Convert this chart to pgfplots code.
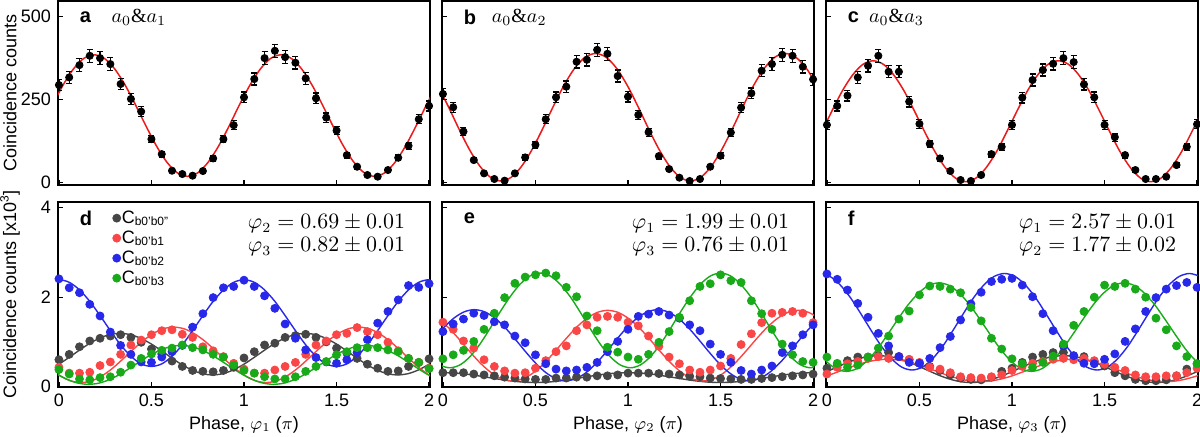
\documentclass[border=0pt]{standalone}
\usepackage{pgfplots}
\pgfplotsset{compat=1.18}
\usepackage{pgfplotstable}
\usepgfplotslibrary{groupplots}
\usetikzlibrary{calc}
\usepackage{fontspec}
\setmainfont{Liberation Sans}
\newfontfamily\serifamp{Liberation Serif}
\definecolor{cgray}{RGB}{70,70,70}
\definecolor{cred}{RGB}{250,70,70}
\definecolor{cblue}{RGB}{40,40,235}
\definecolor{cgreen}{RGB}{25,170,25}
\definecolor{fitred}{RGB}{235,25,25}

\pgfplotstableread{
x y e
0 294 17
0.0556 317 18
0.1111 354 19
0.1667 382 20
0.2222 375 19
0.2778 357 19
0.3333 297 17
0.3889 252 16
0.4444 214 15
0.5 131 11
0.5556 86 9
0.6111 36 6
0.6667 26 5
0.7222 21 5
0.7778 35 6
0.8333 73 9
0.8889 131 11
0.9444 173 13
1 257 16
1.0556 312 18
1.1111 375 19
1.1667 397 20
1.2222 378 19
1.2778 361 19
1.3333 314 18
1.3889 254 16
1.4444 196 14
1.5 157 13
1.5556 83 9
1.6111 48 7
1.6667 23 5
1.7222 18 4
1.7778 38 6
1.8333 75 9
1.8889 111 11
1.9444 191 14
2 231 15
}\taba

\pgfplotstableread{
x y e
0 267 16
0.0556 227 15
0.1111 154 12
0.1667 68 8
0.2222 28 5
0.2778 11 3
0.3333 6 3
0.3889 28 5
0.4444 76 9
0.5 114 11
0.5556 191 14
0.6111 257 16
0.6667 289 17
0.7222 364 19
0.7778 370 19
0.8333 400 20
0.8889 388 20
0.9444 321 18
1 259 16
1.0556 204 14
1.1111 152 12
1.1667 80 9
1.2222 41 6
1.2778 15 4
1.3333 5 2
1.3889 11 3
1.4444 48 7
1.5 81 9
1.5556 151 12
1.6111 226 15
1.6667 269 16
1.7222 337 18
1.7778 357 19
1.8333 385 20
1.8889 382 20
1.9444 349 19
2 311 18
}\tabb

\pgfplotstableread{
x y e
0 174 13
0.0556 231 15
0.1111 262 16
0.1667 317 18
0.2222 352 19
0.2778 382 20
0.3333 334 18
0.3889 334 18
0.4444 244 16
0.5 177 13
0.5556 117 11
0.6111 73 9
0.6667 35 6
0.7222 8 3
0.7778 5 2
0.8333 23 5
0.8889 86 9
0.9444 108 10
1 174 13
1.0556 256 16
1.1111 309 18
1.1667 339 18
1.2222 358 19
1.2778 375 19
1.3333 363 19
1.3889 296 17
1.4444 257 16
1.5 174 13
1.5556 137 12
1.6111 83 9
1.6667 38 6
1.7222 11 3
1.7778 11 3
1.8333 18 4
1.8889 53 7
1.9444 108 10
2 176 13
}\tabc

\pgfplotstableread{
x g r b n
0 0.60 0.43 2.41 0.38
0.0556 0.72 0.30 2.21 0.28
0.1111 0.89 0.30 2.10 0.17
0.1667 1.02 0.32 1.84 0.15
0.2222 1.08 0.47 1.58 0.20
0.2778 1.13 0.55 1.22 0.22
0.3333 1.16 0.72 0.92 0.32
0.3889 1.10 0.93 0.72 0.48
0.4444 0.99 1.04 0.55 0.63
0.5 0.84 1.16 0.54 0.73
0.5556 0.73 1.25 0.66 0.81
0.6111 0.57 1.27 0.78 0.86
0.6667 0.45 1.17 0.92 0.93
0.7222 0.36 1.10 1.33 0.87
0.7778 0.34 0.89 1.63 0.82
0.8333 0.33 0.80 1.99 0.72
0.8889 0.36 0.67 2.21 0.66
0.9444 0.43 0.52 2.24 0.48
1 0.64 0.39 2.38 0.36
1.0556 0.78 0.30 2.24 0.30
1.1111 0.93 0.30 2.03 0.22
1.1667 0.97 0.37 1.75 0.17
1.2222 1.10 0.45 1.40 0.17
1.2778 1.14 0.54 1.08 0.22
1.3333 1.17 0.72 0.82 0.34
1.3889 1.10 0.93 0.65 0.45
1.4444 1.00 1.02 0.55 0.56
1.5 0.86 1.16 0.52 0.71
1.5556 0.75 1.19 0.60 0.78
1.6111 0.63 1.32 0.76 0.87
1.6667 0.50 1.23 1.05 0.87
1.7222 0.41 1.16 1.42 0.87
1.7778 0.34 0.99 1.68 0.82
1.8333 0.35 0.80 1.94 0.78
1.8889 0.45 0.63 2.26 0.63
1.9444 0.54 0.54 2.22 0.54
2 0.62 0.41 2.30 0.40
}\tabd

\pgfplotstableread{
x g r b n
0 0.31 1.44 1.23 0.62
0.0556 0.31 1.28 1.40 0.71
0.1111 0.31 1.02 1.51 0.81
0.1667 0.28 0.86 1.64 1.01
0.2222 0.26 0.60 1.59 1.28
0.2778 0.24 0.45 1.45 1.64
0.3333 0.21 0.35 1.38 1.99
0.3889 0.19 0.30 1.13 2.31
0.4444 0.17 0.31 0.98 2.45
0.5 0.16 0.41 0.71 2.50
0.5556 0.16 0.58 0.51 2.54
0.6111 0.19 0.78 0.39 2.48
0.6667 0.19 0.91 0.35 2.22
0.7222 0.21 1.25 0.37 2.01
0.7778 0.21 1.38 0.43 1.58
0.8333 0.24 1.55 0.54 1.25
0.8889 0.24 1.57 0.78 0.88
0.9444 0.26 1.55 1.01 0.77
1 0.30 1.44 1.28 0.66
1.0556 0.30 1.36 1.57 0.61
1.1111 0.30 1.13 1.62 0.72
1.1667 0.29 0.90 1.68 0.99
1.2222 0.28 0.66 1.60 1.23
1.2778 0.26 0.51 1.53 1.55
1.3333 0.23 0.37 1.38 1.92
1.3889 0.22 0.32 1.25 2.24
1.4444 0.19 0.37 0.95 2.30
1.5 0.18 0.46 0.72 2.50
1.5556 0.17 0.63 0.54 2.37
1.6111 0.16 0.94 0.36 2.33
1.6667 0.16 1.18 0.28 1.92
1.7222 0.18 1.43 0.37 1.63
1.7778 0.20 1.64 0.46 1.28
1.8333 0.22 1.66 0.76 0.95
1.8889 0.24 1.68 0.91 0.71
1.9444 0.26 1.64 1.16 0.56
2 0.28 1.43 1.38 0.54
}\tabe

\pgfplotstableread{
x g r b n
0 0.41 0.28 2.52 0.66
0.0556 0.48 0.43 2.40 0.52
0.1111 0.58 0.51 2.16 0.43
0.1667 0.66 0.56 1.86 0.48
0.2222 0.66 0.63 1.55 0.66
0.2778 0.69 0.67 1.19 0.86
0.3333 0.76 0.63 0.91 1.13
0.3889 0.67 0.67 0.67 1.51
0.4444 0.60 0.61 0.54 1.69
0.5 0.52 0.54 0.52 2.05
0.5556 0.45 0.43 0.63 2.25
0.6111 0.36 0.39 0.87 2.24
0.6667 0.26 0.31 1.12 2.18
0.7222 0.19 0.22 1.49 2.10
0.7778 0.16 0.20 1.85 1.77
0.8333 0.15 0.19 2.11 1.47
0.8889 0.21 0.22 2.35 1.08
0.9444 0.34 0.26 2.40 0.84
1 0.41 0.36 2.42 0.62
1.0556 0.54 0.45 2.27 0.51
1.1111 0.66 0.52 2.01 0.43
1.1667 0.72 0.56 1.63 0.54
1.2222 0.76 0.61 1.25 0.68
1.2778 0.76 0.63 0.91 0.95
1.3333 0.69 0.60 0.69 1.37
1.3889 0.67 0.63 0.52 1.68
1.4444 0.56 0.58 0.51 2.00
1.5 0.46 0.50 0.61 2.27
1.5556 0.31 0.43 0.73 2.24
1.6111 0.24 0.36 1.01 2.31
1.6667 0.16 0.26 1.29 2.18
1.7222 0.13 0.22 1.68 2.00
1.7778 0.13 0.22 1.99 1.53
1.8333 0.15 0.24 2.18 1.27
1.8889 0.24 0.24 2.26 0.91
1.9444 0.39 0.31 2.33 0.67
2 0.51 0.41 2.22 0.51
}\tabf

\pgfplotsset{
  myaxis/.style={
    scale only axis, width=186pt,
    xmin=-0.005, xmax=2.005,
    xtick={0,0.5,1,1.5,2},
    tick align=inside, xtick pos=bottom, ytick pos=left,
    major tick length=2.5pt,
    axis line style={line width=0.7pt},
    every tick/.style={line width=0.6pt, black},
    tick label style={font=\fontsize{9}{10}\selectfont},
    label style={font=\fontsize{9}{10}\selectfont},
    /pgf/number format/assume math mode=true,
    xlabel style={at={(axis description cs:0.5,-0.205)}, anchor=center},
    ylabel style={at={(axis description cs:-0.129,0.5)}, anchor=center},
  },
  topax/.style={myaxis, height=92pt, ymin=-7, ymax=547, ytick={0,250,500}},
  botax/.style={myaxis, height=92.5pt, ymin=-0.01, ymax=4.13, ytick={0,2,4}},
  pts/.style={only marks, mark=*, mark size=1.8pt, black,
    error bars/.cd, y dir=both, y explicit,
    error bar style={line width=0.6pt, black},
    error mark options={rotate=90, line width=0.6pt, mark size=1.5pt, black}},
  fit/.style={fitred, line width=0.75pt, smooth, no markers, forget plot},
  dp/.style={only marks, mark=*, mark size=2pt, mark options={draw=none, fill=#1}, color=#1},
  fc/.style={#1, line width=0.7pt, smooth, no markers, forget plot},
}
\tikzset{
  lab/.style={anchor=west, font=\fontsize{10}{12}\selectfont\bfseries},
  ann/.style={anchor=north east, align=right, font=\fontsize{10.5}{11.5}\selectfont},
}

\begin{document}
\begin{tikzpicture}
\begin{groupplot}[group style={group size=3 by 2, horizontal sep=6pt, vertical sep=8.5pt,
   x descriptions at=edge bottom, y descriptions at=edge left}]
% ---------- a
\nextgroupplot[topax, ylabel={Coincidence counts}]
\addplot[fit] coordinates {(-0.034,234) (0.022,293.5) (0.078,342) (0.134,374) (0.190,385) (0.246,374) (0.302,342) (0.358,293.5) (0.414,234) (0.471,170) (0.527,110.5) (0.583,62) (0.639,30) (0.695,19) (0.751,30) (0.807,62) (0.863,110.5) (0.919,170) (0.975,234) (1.032,293.5) (1.088,342) (1.144,374) (1.200,385) (1.256,374) (1.312,342) (1.368,293.5) (1.424,234) (1.481,170) (1.537,110.5) (1.593,62) (1.649,30) (1.705,19) (1.761,30) (1.817,62) (1.873,110.5) (1.929,170) (1.986,234) (2.042,293.5)};
\addplot[pts] table[x=x, y=y, y error=e] {\taba};
\node[lab] at (rel axis cs:0.04,0.913) {a};
\node[anchor=west, font=\fontsize{10}{12}\selectfont] at (rel axis cs:0.125,0.913) {$a_0${\serifamp\&}$a_1$};
% ---------- b
\nextgroupplot[topax]
\addplot[fit] coordinates {(-0.029,293) (0.028,230.4) (0.085,163.6) (0.142,101) (0.199,50) (0.256,16.5) (0.313,5) (0.370,16.5) (0.426,50) (0.483,101) (0.540,163.6) (0.597,230.4) (0.654,293) (0.711,344) (0.768,377.5) (0.825,389) (0.882,377.5) (0.939,344) (0.996,293) (1.053,230.4) (1.110,163.6) (1.167,101) (1.224,50) (1.281,16.5) (1.337,5) (1.394,16.5) (1.451,50) (1.508,101) (1.565,163.6) (1.622,230.4) (1.679,293) (1.736,344) (1.793,377.5) (1.850,389) (1.907,377.5) (1.964,344) (2.021,293)};
\addplot[pts] table[x=x, y=y, y error=e] {\tabb};
\node[lab] at (rel axis cs:0.04,0.913) {b};
\node[anchor=west, font=\fontsize{10}{12}\selectfont] at (rel axis cs:0.115,0.913) {$a_0${\serifamp\&}$a_2$};
% ---------- c
\nextgroupplot[topax]
\addplot[fit] coordinates {(-0.028,153.3) (0.028,216.7) (0.083,276) (0.139,324.4) (0.194,356) (0.25,367) (0.306,356) (0.361,324.4) (0.417,276) (0.472,216.7) (0.528,153.3) (0.583,94) (0.639,45.6) (0.694,14) (0.75,3) (0.806,14) (0.861,45.6) (0.917,94) (0.972,153.3) (1.028,216.7) (1.083,276) (1.139,324.4) (1.194,356) (1.25,367) (1.306,356) (1.361,324.4) (1.417,276) (1.472,216.7) (1.528,153.3) (1.583,94) (1.639,45.6) (1.694,14) (1.75,3) (1.806,14) (1.861,45.6) (1.917,94) (1.972,153.3) (2.028,216.7)};
\addplot[pts] table[x=x, y=y, y error=e] {\tabc};
\node[lab] at (rel axis cs:0.04,0.913) {c};
\node[anchor=west, font=\fontsize{10}{12}\selectfont] at (rel axis cs:0.097,0.913) {$a_0${\serifamp\&}$a_3$};
% ---------- d
\nextgroupplot[botax, ylabel={Coincidence counts [x10\textsuperscript{3}]}, xlabel={Phase, $\varphi_1$ ($\pi$)},
  legend style={at={(rel axis cs:0.13,0.985)}, anchor=north west, draw=none, fill=none,
    font=\fontsize{9}{10}\selectfont, row sep=1.0pt,
    nodes={inner sep=0.5pt, text height=6.5pt, text depth=1.5pt}},
  legend cell align=left,
  legend image code/.code={\draw[#1] plot coordinates {(0pt,0pt)};}]
\addplot[fc=cgray] coordinates {(-0.059,0.369) (-0.003,0.493) (0.052,0.644) (0.108,0.806) (0.163,0.958) (0.219,1.081) (0.274,1.162) (0.33,1.19) (0.386,1.162) (0.441,1.081) (0.497,0.958) (0.552,0.806) (0.608,0.644) (0.663,0.493) (0.719,0.369) (0.774,0.288) (0.83,0.26) (0.886,0.288) (0.941,0.369) (0.997,0.493) (1.052,0.644) (1.108,0.806) (1.163,0.958) (1.219,1.081) (1.274,1.162) (1.33,1.19) (1.386,1.162) (1.441,1.081) (1.497,0.958) (1.552,0.806) (1.608,0.644) (1.663,0.493) (1.719,0.369) (1.774,0.288) (1.83,0.26) (1.886,0.288) (1.941,0.369) (1.997,0.493) (2.052,0.644)};
\addplot[fc=cred] coordinates {(-0.047,0.40) (0.009,0.235) (0.064,0.127) (0.12,0.09) (0.176,0.127) (0.231,0.235) (0.287,0.40) (0.342,0.602) (0.398,0.818) (0.453,1.02) (0.509,1.185) (0.564,1.293) (0.62,1.33) (0.676,1.293) (0.731,1.185) (0.787,1.02) (0.842,0.818) (0.898,0.602) (0.953,0.40) (1.009,0.235) (1.064,0.127) (1.12,0.09) (1.176,0.127) (1.231,0.235) (1.287,0.40) (1.342,0.602) (1.398,0.818) (1.453,1.02) (1.509,1.185) (1.564,1.293) (1.62,1.33) (1.676,1.293) (1.731,1.185) (1.787,1.02) (1.842,0.818) (1.898,0.602) (1.953,0.40) (2.009,0.235) (2.064,0.127)};
\addplot[fc=cblue] coordinates {(-0.056,2.332) (0,2.39) (0.056,2.332) (0.111,2.163) (0.167,1.905) (0.222,1.589) (0.278,1.251) (0.333,0.935) (0.389,0.677) (0.444,0.508) (0.5,0.45) (0.556,0.508) (0.611,0.677) (0.667,0.935) (0.722,1.251) (0.778,1.589) (0.833,1.905) (0.889,2.163) (0.944,2.332) (1,2.39) (1.056,2.332) (1.111,2.163) (1.167,1.905) (1.222,1.589) (1.278,1.251) (1.333,0.935) (1.389,0.677) (1.444,0.508) (1.5,0.45) (1.556,0.508) (1.611,0.677) (1.667,0.935) (1.722,1.251) (1.778,1.589) (1.833,1.905) (1.889,2.163) (1.944,2.332) (2,2.39) (2.056,2.332)};
\addplot[fc=cgreen] coordinates {(-0.062,0.409) (-0.007,0.268) (0.049,0.152) (0.104,0.076) (0.16,0.05) (0.216,0.076) (0.271,0.152) (0.327,0.268) (0.382,0.409) (0.438,0.561) (0.493,0.703) (0.549,0.818) (0.604,0.894) (0.66,0.92) (0.716,0.894) (0.771,0.818) (0.827,0.703) (0.882,0.561) (0.938,0.409) (0.993,0.268) (1.049,0.152) (1.104,0.076) (1.16,0.05) (1.216,0.076) (1.271,0.152) (1.327,0.268) (1.382,0.409) (1.438,0.561) (1.493,0.703) (1.549,0.818) (1.604,0.894) (1.66,0.92) (1.716,0.894) (1.771,0.818) (1.827,0.703) (1.882,0.561) (1.938,0.409) (1.993,0.268) (2.049,0.152)};
\addplot[dp=cgray] table[x=x, y=g] {\tabd};
\addlegendentry{C\textsubscript{b0'b0''}}
\addplot[dp=cred] table[x=x, y=r] {\tabd};
\addlegendentry{C\textsubscript{b0'b1}}
\addplot[dp=cblue] table[x=x, y=b] {\tabd};
\addlegendentry{C\textsubscript{b0'b2}}
\addplot[dp=cgreen] table[x=x, y=n] {\tabd};
\addlegendentry{C\textsubscript{b0'b3}}
\node[lab] at (rel axis cs:0.04,0.913) {d};
\node[ann] at (rel axis cs:0.952,0.97) {$\varphi_2 = 0.69 \pm 0.01$\\$\varphi_3 = 0.82 \pm 0.01$};
% ---------- e
\nextgroupplot[botax, xlabel={Phase, $\varphi_2$ ($\pi$)}]
\addplot[fc=cgray] coordinates {(-0.056,0.303) (0,0.31) (0.056,0.303) (0.111,0.284) (0.167,0.255) (0.222,0.219) (0.278,0.181) (0.333,0.145) (0.389,0.116) (0.444,0.097) (0.5,0.09) (0.556,0.097) (0.611,0.116) (0.667,0.145) (0.722,0.181) (0.778,0.219) (0.833,0.255) (0.889,0.284) (0.944,0.303) (1,0.31) (1.056,0.303) (1.111,0.284) (1.167,0.255) (1.222,0.219) (1.278,0.181) (1.333,0.145) (1.389,0.116) (1.444,0.097) (1.5,0.09) (1.556,0.097) (1.611,0.116) (1.667,0.145) (1.722,0.181) (1.778,0.219) (1.833,0.255) (1.889,0.284) (1.944,0.303) (2,0.31) (2.056,0.303)};
\addplot[fc=cred] coordinates {(-0.026,1.520) (0.032,1.310) (0.089,1.052) (0.146,0.778) (0.203,0.52) (0.261,0.310) (0.318,0.172) (0.375,0.125) (0.432,0.172) (0.489,0.310) (0.547,0.52) (0.604,0.778) (0.661,1.052) (0.718,1.310) (0.776,1.520) (0.833,1.658) (0.89,1.705) (0.947,1.658) (1.004,1.520) (1.062,1.310) (1.119,1.052) (1.176,0.778) (1.233,0.52) (1.291,0.310) (1.348,0.172) (1.405,0.125) (1.462,0.172) (1.519,0.310) (1.577,0.52) (1.634,0.778) (1.691,1.052) (1.748,1.310) (1.806,1.520) (1.863,1.658) (1.92,1.705) (1.977,1.658) (2.034,1.520)};
\addplot[fc=cblue] coordinates {(-0.05,1.063) (0.005,1.323) (0.06,1.534) (0.115,1.672) (0.17,1.72) (0.225,1.672) (0.28,1.534) (0.335,1.323) (0.39,1.063) (0.445,0.787) (0.5,0.528) (0.555,0.316) (0.61,0.178) (0.665,0.13) (0.72,0.178) (0.775,0.316) (0.83,0.528) (0.885,0.787) (0.94,1.063) (0.995,1.323) (1.05,1.534) (1.105,1.672) (1.16,1.72) (1.215,1.672) (1.27,1.534) (1.325,1.323) (1.38,1.063) (1.435,0.787) (1.49,0.528) (1.545,0.316) (1.6,0.178) (1.655,0.13) (1.71,0.178) (1.765,0.316) (1.82,0.528) (1.875,0.787) (1.93,1.063) (1.985,1.323) (2.04,1.534)};
\addplot[fc=cgreen] coordinates {(-0.071,0.668) (-0.017,0.484) (0.037,0.42) (0.092,0.484) (0.146,0.668) (0.2,0.95) (0.254,1.296) (0.308,1.664) (0.363,2.01) (0.417,2.292) (0.471,2.476) (0.525,2.54) (0.579,2.476) (0.633,2.292) (0.688,2.01) (0.742,1.664) (0.796,1.296) (0.85,0.95) (0.904,0.668) (0.958,0.484) (1.013,0.42) (1.067,0.484) (1.121,0.668) (1.175,0.95) (1.229,1.296) (1.283,1.664) (1.338,2.01) (1.392,2.292) (1.446,2.476) (1.5,2.54) (1.554,2.476) (1.608,2.292) (1.663,2.01) (1.717,1.664) (1.771,1.296) (1.825,0.95) (1.879,0.668) (1.933,0.484) (1.988,0.42) (2.042,0.484)};
\addplot[dp=cgray] table[x=x, y=g] {\tabe};
\addplot[dp=cred] table[x=x, y=r] {\tabe};
\addplot[dp=cblue] table[x=x, y=b] {\tabe};
\addplot[dp=cgreen] table[x=x, y=n] {\tabe};
\node[lab] at (rel axis cs:0.04,0.913) {e};
\node[ann] at (rel axis cs:0.952,0.97) {$\varphi_1 = 1.99 \pm 0.01$\\$\varphi_3 = 0.76 \pm 0.01$};
% ---------- f
\nextgroupplot[botax, xlabel={Phase, $\varphi_3$ ($\pi$)}]
\addplot[fc=cgray] coordinates {(-0.053,0.24) (0.002,0.338) (0.058,0.442) (0.113,0.54) (0.169,0.62) (0.224,0.672) (0.28,0.69) (0.336,0.672) (0.391,0.62) (0.447,0.54) (0.502,0.442) (0.558,0.338) (0.613,0.24) (0.669,0.16) (0.724,0.108) (0.78,0.09) (0.836,0.108) (0.891,0.16) (0.947,0.24) (1.002,0.338) (1.058,0.442) (1.113,0.54) (1.169,0.62) (1.224,0.672) (1.28,0.69) (1.336,0.672) (1.391,0.62) (1.447,0.54) (1.502,0.442) (1.558,0.338) (1.613,0.24) (1.669,0.16) (1.724,0.108) (1.78,0.09) (1.836,0.108) (1.891,0.16) (1.947,0.24) (2.002,0.338) (2.058,0.442)};
\addplot[fc=cred] coordinates {(-0.059,0.169) (-0.003,0.235) (0.052,0.317) (0.108,0.404) (0.163,0.485) (0.219,0.552) (0.274,0.595) (0.33,0.61) (0.386,0.595) (0.441,0.552) (0.497,0.485) (0.552,0.404) (0.608,0.317) (0.663,0.235) (0.719,0.169) (0.774,0.125) (0.83,0.11) (0.886,0.125) (0.941,0.169) (0.997,0.235) (1.052,0.317) (1.108,0.404) (1.163,0.485) (1.219,0.552) (1.274,0.595) (1.33,0.61) (1.386,0.595) (1.441,0.552) (1.497,0.485) (1.552,0.404) (1.608,0.317) (1.663,0.235) (1.719,0.169) (1.774,0.125) (1.83,0.11) (1.886,0.125) (1.941,0.169) (1.997,0.235) (2.052,0.317)};
\addplot[fc=cblue] coordinates {(-0.04,2.53) (0.016,2.465) (0.071,2.277) (0.127,1.99) (0.182,1.638) (0.238,1.262) (0.293,0.91) (0.349,0.623) (0.404,0.435) (0.46,0.37) (0.516,0.435) (0.571,0.623) (0.627,0.91) (0.682,1.262) (0.738,1.638) (0.793,1.99) (0.849,2.277) (0.904,2.465) (0.96,2.53) (1.016,2.465) (1.071,2.277) (1.127,1.99) (1.182,1.638) (1.238,1.262) (1.293,0.91) (1.349,0.623) (1.404,0.435) (1.46,0.37) (1.516,0.435) (1.571,0.623) (1.627,0.91) (1.682,1.262) (1.738,1.638) (1.793,1.99) (1.849,2.277) (1.904,2.465) (1.96,2.53) (2.016,2.465)};
\addplot[fc=cgreen] coordinates {(-0.062,0.835) (-0.006,0.572) (0.049,0.399) (0.105,0.34) (0.161,0.399) (0.216,0.572) (0.272,0.835) (0.327,1.158) (0.383,1.502) (0.438,1.825) (0.494,2.088) (0.549,2.261) (0.605,2.32) (0.661,2.261) (0.716,2.088) (0.772,1.825) (0.827,1.502) (0.883,1.158) (0.938,0.835) (0.994,0.572) (1.049,0.399) (1.105,0.34) (1.161,0.399) (1.216,0.572) (1.272,0.835) (1.327,1.158) (1.383,1.502) (1.438,1.825) (1.494,2.088) (1.549,2.261) (1.605,2.32) (1.661,2.261) (1.716,2.088) (1.772,1.825) (1.827,1.502) (1.883,1.158) (1.938,0.835) (1.994,0.572) (2.049,0.399)};
\addplot[dp=cgray] table[x=x, y=g] {\tabf};
\addplot[dp=cred] table[x=x, y=r] {\tabf};
\addplot[dp=cblue] table[x=x, y=b] {\tabf};
\addplot[dp=cgreen] table[x=x, y=n] {\tabf};
\node[lab] at (rel axis cs:0.04,0.913) {f};
\node[ann] at (rel axis cs:0.96,0.97) {$\varphi_1 = 2.57 \pm 0.01$\\$\varphi_2 = 1.77 \pm 0.02$};
\end{groupplot}
\pgfresetboundingbox
\path[use as bounding box] ($(group c1r1.north west)+(-29pt,0.5pt)$) rectangle ($(group c3r2.south east)+(1pt,-25pt)$);
\end{tikzpicture}
\end{document}
